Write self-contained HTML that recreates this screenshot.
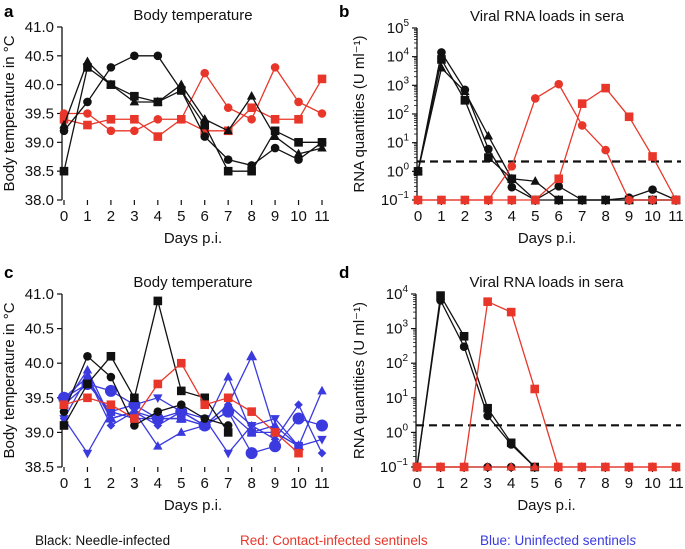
<!DOCTYPE html>
<html><head><meta charset="utf-8"><style>
body{margin:0;background:#fff}
svg{display:block;font-family:"Liberation Sans",Arial,sans-serif}
</style></head><body>
<svg id="fig" width="685" height="549" viewBox="0 0 685 549">
<text x="4" y="17" font-size="17" font-weight="bold">a</text>
<text x="339" y="17" font-size="17" font-weight="bold">b</text>
<text x="4" y="278" font-size="17" font-weight="bold">c</text>
<text x="339" y="278" font-size="17" font-weight="bold">d</text>
<text x="35" y="545" font-size="13.5" fill="#111">Black: Needle-infected</text>
<text x="240" y="545" font-size="13.5" fill="#e8372a">Red: Contact-infected sentinels</text>
<text x="480" y="545" font-size="13.5" fill="#3a3adf">Blue: Uninfected sentinel<tspan font-style="italic">s</tspan></text>
</svg>
<script>
const days=[0,1,2,3,4,5,6,7,8,9,10,11];
const aTicks=[38.0,38.5,39.0,39.5,40.0,40.5,41.0];
const cTicks=[38.5,39.0,39.5,40.0,40.5,41.0];
const bTicks=[-1,0,1,2,3,4,5];
const dTicks=[-1,0,1,2,3,4];
// panel a
const aBlackCircle=[39.2,39.7,40.3,40.5,40.5,39.9,39.1,38.7,38.6,38.9,38.7,39.0];
const aBlackTri=[39.3,40.4,40.0,39.7,39.7,40.0,39.4,39.2,39.8,39.1,38.8,38.9];
const aBlackSquare=[38.5,40.3,40.0,39.8,39.7,39.9,39.3,38.5,38.5,39.2,39.0,39.0];
const aRedCircle=[39.5,39.5,39.2,39.2,39.4,39.4,40.2,39.6,39.4,40.3,39.7,39.5];
const aRedSquare=[39.4,39.3,39.4,39.4,39.1,39.4,39.2,39.2,39.6,39.4,39.4,40.1];
// panel b
const bBlackCircle=[1,14000,700,6,0.28,0.1,0.3,0.1,0.1,0.12,0.23,0.1];
const bBlackTri=[1,4000,600,17,0.55,0.45,0.1,0.1,0.1,0.1,0.1,0.1];
const bBlackSquare=[1,8000,300,3,0.55,0.1,0.1,0.1,0.1,0.1,0.1,0.1];
const bRedCircle=[0.1,0.1,0.1,0.1,1.5,350,1100,40,5.5,0.1,0.1,0.1];
const bRedSquare=[0.1,0.1,0.1,0.1,0.1,0.1,0.55,230,800,80,3.3,0.1];
const bThreshold=2.2;
// panel c
const cBlackCircle=[39.3,40.1,39.8,39.1,39.3,39.4,39.2,39.1];
const cBlackSquare=[39.1,39.7,40.1,39.5,40.9,39.6,39.5,39.0];
const cRedSquare=[39.4,39.5,39.4,39.2,39.7,40.0,39.4,39.5,39.3,39.0,38.7];
const cBlueCircle=[39.5,39.7,39.6,39.4,39.2,39.3,39.1,39.3,38.7,38.8,39.2,39.1];
const cBlueTri=[39.4,39.9,39.2,39.3,38.8,39.0,39.1,39.8,39.0,39.1,38.8,39.6];
const cBlueTriDown=[39.2,38.7,39.3,39.4,39.5,39.3,39.2,38.7,39.1,39.2,38.8,38.9];
const cBlueDiamond=[39.2,39.8,39.1,39.3,39.1,39.3,39.1,39.4,39.1,38.9,39.4,38.7];
const cBlueTri2=[39.5,39.8,39.2,39.3,39.2,39.2,39.1,39.4,40.1,39.0,38.8];
const cBlueSquare=[39.4,39.7,39.3,39.2,39.2,39.2,39.1,39.3,39.0,39.0,38.8];
// panel d
const dBlackSquare=[0.1,9000,600,5,0.5,0.1];
const dBlackCircle=[0.1,6500,300,3,0.45,0.1];
const dBlackCircle2=[0.1,0.1,0.1,0.1,0.1,0.1];
const dRedSquare=[0.1,0.1,0.1,6000,3000,18,0.1,0.1,0.1,0.1,0.1,0.1];
const dRedTri=[0.1,0.1,0.1,0.1,0.1,0.1,0.1,0.1,0.1,0.1,0.1,0.1];
const dThreshold=1.6;

const NS="http://www.w3.org/2000/svg";
const svg=document.getElementById('fig');
const BLACK="#111",RED="#e8372a",BLUE="#3a3adf";
function mk(tag,attrs,parent){const e=document.createElementNS(NS,tag);for(const k in attrs)e.setAttribute(k,attrs[k]);(parent||svg).appendChild(e);return e;}
function txt(x,y,s,size,anchor,parent){const t=mk('text',{x:x,y:y,'font-size':size,'text-anchor':anchor||'middle',fill:'#111'},parent);t.textContent=s;return t;}

function panel(name,p){
  const g=mk('g',{});
  
  
  const xs=d=>p.x0+(p.x1-p.x0)*d/11;
  const ys=v=>{const t=p.log?Math.log10(v):v;return p.yb+(p.yt-p.yb)*(t-p.min)/(p.max-p.min);};
  p.xs=xs;p.ys=ys;p.g=g;
  const ax=mk('path',{d:`M${p.ax},${p.yt}V${p.yb}`,stroke:'#111','stroke-width':1.3,fill:'none'},g);
  
  
  p.yticks.forEach(t=>{
    const y=p.log?ys(Math.pow(10,t)):ys(t);
    mk('line',{x1:p.ax-5,x2:p.ax,y1:y,y2:y,stroke:'#111','stroke-width':1.2},g);
    if(p.log){
      const tl=mk('text',{x:p.ax-8,y:y+5,'font-size':15,'text-anchor':'end',fill:'#111'},g);
      tl.textContent='10';
      const sp=mk('tspan',{dy:-7,'font-size':10},tl);sp.textContent=(t<0?'\u2212':'')+Math.abs(t);
      
      
      if(t<p.max){for(let m=2;m<10;m++){const yy=ys(m*Math.pow(10,t));mk('line',{x1:p.ax-3,x2:p.ax,y1:yy,y2:yy,stroke:'#111','stroke-width':0.8},g);}}
    }else{
      const tl=txt(p.ax-8,y+5,t.toFixed(1),15,'end',g);
      
      
    }
  });
  days.forEach(d=>{
    const x=xs(d);
    mk('line',{x1:x,x2:x,y1:p.yb,y2:p.yb+5,stroke:'#111','stroke-width':1.2},g);
    const tl=txt(x,p.yb+21,String(d),15,'middle',g);
    
    
  });
  const xt=txt((p.x0+p.x1)/2,p.yb+43,'Days p.i.',15,'middle',g);
  
  
  const yt=txt(0,0,p.ytitle,15,'middle',g);
  yt.setAttribute('transform',`translate(${p.ytx},${(p.yt+p.yb)/2}) rotate(-90)`);
  
  
  const tt=txt((p.x0+p.x1)/2,p.yt-7,p.title,15,'middle',g);
  
  
  return p;
}
function marker(p,shape,x,y,color,size){
  const s=size||4.3;let e;
  if(shape==='circle')e=mk('circle',{cx:x,cy:y,r:s,fill:color},p.g);
  else if(shape==='square')e=mk('rect',{x:x-s,y:y-s,width:2*s,height:2*s,fill:color},p.g);
  else if(shape==='tri')e=mk('path',{d:`M${x},${y-s*1.2}L${x+s*1.1},${y+s*0.8}L${x-s*1.1},${y+s*0.8}Z`,fill:color},p.g);
  else if(shape==='tridown')e=mk('path',{d:`M${x},${y+s*1.2}L${x+s*1.1},${y-s*0.8}L${x-s*1.1},${y-s*0.8}Z`,fill:color},p.g);
  else e=mk('path',{d:`M${x},${y-s}L${x+s},${y}L${x},${y+s}L${x-s},${y}Z`,fill:color},p.g);
  
  
}
function series(p,name,vals,color,shape,size){
  const pts=vals.map((v,i)=>[p.xs(days[i]),p.ys(v)]);
  const l=mk('path',{d:'M'+pts.map(q=>q.join(',')).join('L'),stroke:color,'stroke-width':1.3,fill:'none'},p.g);
  
  
  pts.forEach(q=>marker(p,shape,q[0],q[1],color,size));
}
function thresh(p,v,name){
  const y=p.ys(v);
  const l=mk('line',{x1:p.ax,x2:p.x1+5,y1:y,y2:y,stroke:'#111','stroke-width':2.2,'stroke-dasharray':'8,5'},p.g);
  
  
}

const pa=panel('panel-a-body-temperature',{x0:64,x1:322,ax:62,yt:27,yb:200,min:38,max:41,log:false,yticks:aTicks,title:'Body temperature',ytitle:'Body temperature in °C',ytx:14});
series(pa,'red-circle-line',aRedCircle,RED,'circle');
series(pa,'red-square-line',aRedSquare,RED,'square');
series(pa,'black-circle-line',aBlackCircle,BLACK,'circle');
series(pa,'black-triangle-line',aBlackTri,BLACK,'tri');
series(pa,'black-square-line',aBlackSquare,BLACK,'square');

const pb=panel('panel-b-viral-rna',{x0:418,x1:676,ax:417,yt:28,yb:200,min:-1,max:5,log:true,yticks:bTicks,title:'Viral RNA loads in sera',ytitle:'RNA quantities (U ml\u207B\u00B9)',ytx:364});
thresh(pb,bThreshold,'detection-threshold');
series(pb,'black-circle-line',bBlackCircle,BLACK,'circle');
series(pb,'black-triangle-line',bBlackTri,BLACK,'tri');
series(pb,'black-square-line',bBlackSquare,BLACK,'square');
series(pb,'red-circle-line',bRedCircle,RED,'circle');
series(pb,'red-square-line',bRedSquare,RED,'square');

const pc=panel('panel-c-body-temperature',{x0:64,x1:322,ax:62,yt:294,yb:467,min:38.5,max:41,log:false,yticks:cTicks,title:'Body temperature',ytitle:'Body temperature in °C',ytx:14});
series(pc,'blue-circle-line',cBlueCircle,BLUE,'circle',6);
series(pc,'blue-triangle-line',cBlueTri,BLUE,'tri');
series(pc,'blue-triangle-down-line',cBlueTriDown,BLUE,'tridown');
series(pc,'blue-diamond-line',cBlueDiamond,BLUE,'diamond');
series(pc,'blue-triangle-line-2',cBlueTri2,BLUE,'tri',5);
series(pc,'blue-square-line',cBlueSquare,BLUE,'square');
series(pc,'black-circle-line',cBlackCircle,BLACK,'circle');
series(pc,'black-square-line',cBlackSquare,BLACK,'square');
series(pc,'red-square-line',cRedSquare,RED,'square');

const pd=panel('panel-d-viral-rna',{x0:417,x1:676,ax:416,yt:294,yb:467,min:-1,max:4,log:true,yticks:dTicks,title:'Viral RNA loads in sera',ytitle:'RNA quantities (U ml\u207B\u00B9)',ytx:364});
thresh(pd,dThreshold,'detection-threshold');
series(pd,'black-square-line',dBlackSquare,BLACK,'square');
series(pd,'black-circle-line',dBlackCircle,BLACK,'circle');
series(pd,'black-circle-line-2',dBlackCircle2,BLACK,'circle');
series(pd,'red-square-line',dRedSquare,RED,'square');
series(pd,'red-triangle-line',dRedTri,RED,'tri');
</script>
</body></html>
